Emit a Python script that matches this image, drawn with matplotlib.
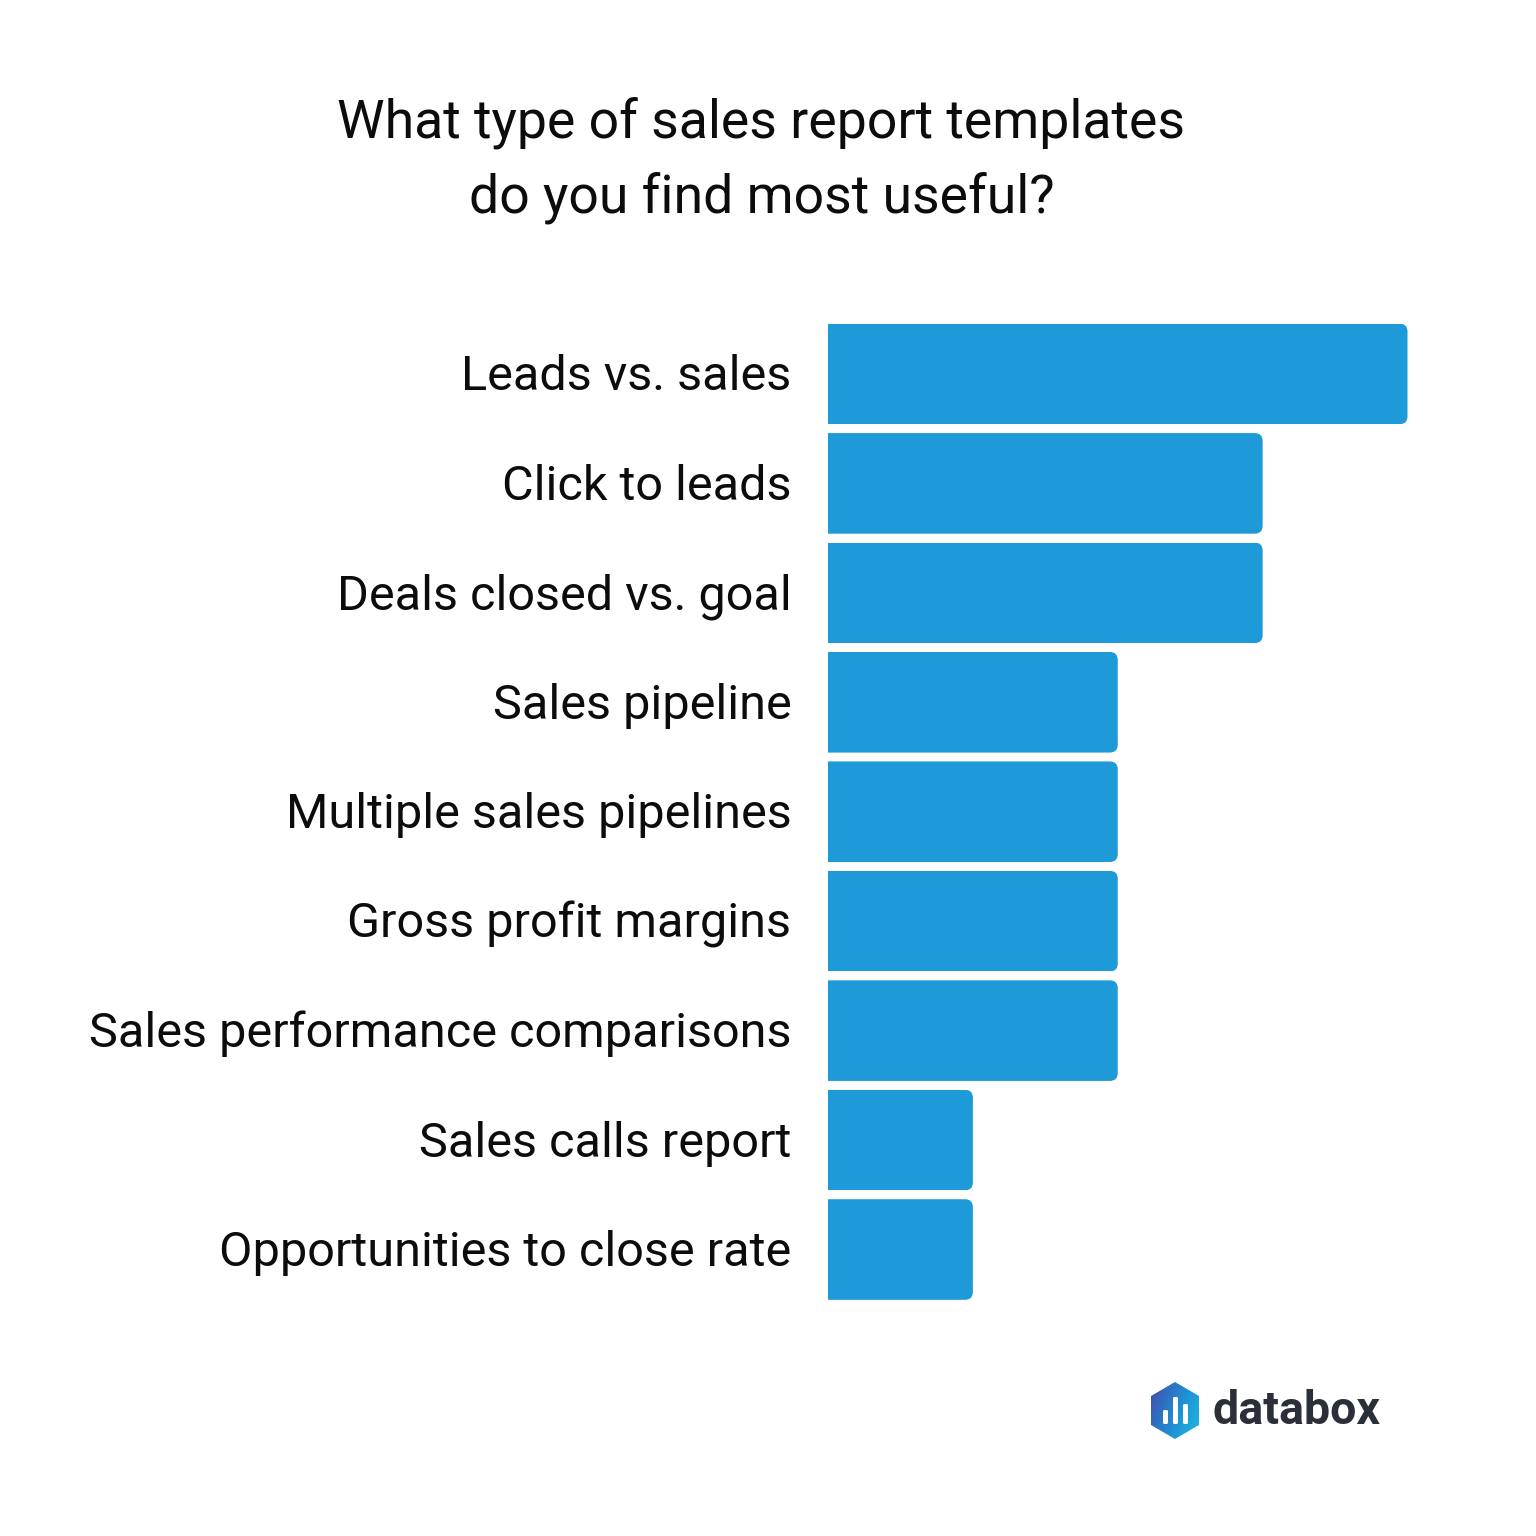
import numpy as np
import matplotlib
matplotlib.use("Agg")
import matplotlib.pyplot as plt
from matplotlib.patches import FancyBboxPatch, Polygon
from matplotlib.colors import LinearSegmentedColormap
from matplotlib.transforms import ScaledTranslation

categories = ["Leads vs. sales", "Click to leads", "Deals closed vs. goal", "Sales pipeline",
              "Multiple sales pipelines", "Gross profit margins",
              "Sales performance comparisons", "Sales calls report", "Opportunities to close rate"]
values = [4, 3, 3, 2, 2, 2, 2, 1, 1]
title_lines = ["What type of sales report templates", "do you find most useful?"]
BAR = "#1E9AD8"
INK = "#0c0c0c"
S = 1536.0

fig = plt.figure(figsize=(15.36, 15.36), dpi=100, facecolor="white")
plt.rcParams["font.family"] = ["Roboto", "DejaVu Sans"]

# Overlay in pixel coordinates for title and logo
bg = fig.add_axes([0, 0, 1, 1])
bg.set_xlim(0, S); bg.set_ylim(S, 0); bg.axis("off")

bg.text(761, 117, title_lines[0], ha="center", va="center_baseline", fontsize=38.65, color=INK)
bg.text(761.5, 191.5, title_lines[1], ha="center", va="center_baseline", fontsize=38.65, color=INK)

# Chart axes: x 828..1407 is 0..4, rows pitch 109.5 px
top, pitch = 319.2, 109.45
n = len(categories)
ax = fig.add_axes([828/S, 1 - (top + pitch*n)/S, 579.5/S, pitch*n/S])
ax.set_xlim(0, max(values)); ax.set_ylim(n - 0.5, -0.5)
ax.patch.set_alpha(0)
for s in ax.spines.values():
    s.set_visible(False)
ypos = np.arange(n)
bars = ax.barh(ypos, values, height=100.6/pitch, color=BAR, linewidth=0)
ax.set_xticks([])
ax.set_yticks(ypos, categories, fontsize=35, color=INK)
ax.tick_params(axis="y", length=0, pad=26)
nudge = ScaledTranslation(-0.5/100, 1.5/100, fig.dpi_scale_trans)
for lab in ax.get_yticklabels():
    lab.set_verticalalignment("center_baseline")
    lab.set_transform(lab.get_transform() + nudge)

# Round the right corners of every bar
xunit = 144.9; radius = 8.0
for b, y, v in zip(bars, ypos, values):
    h = b.get_height()
    clip = FancyBboxPatch((-1, y - h/2), v + 1, h, boxstyle=f"round,pad=0,rounding_size={radius/xunit}",
                          mutation_aspect=xunit/pitch, transform=ax.transData, linewidth=0)
    b.set_clip_path(clip)

# Logo
hexagon = [(1175, 1382), (1199, 1396), (1199, 1425), (1175, 1439), (1151, 1425), (1151, 1396)]
cmap = LinearSegmentedColormap.from_list("logo", ["#4A48A6", "#2F6FC0", "#1E96D6", "#1EB4DE"])
gx, gy = np.meshgrid(np.linspace(0, 1, 64), np.linspace(0, 1, 64))
grad = np.clip(0.75*gx + 0.35*gy, 0, 1)
im = bg.imshow(grad, extent=(1149, 1201, 1441, 1380), cmap=cmap, aspect="auto", zorder=2)
bg.set_xlim(0, S); bg.set_ylim(S, 0)
hp = Polygon(hexagon, closed=True, transform=bg.transData, facecolor="none", edgecolor="none")
bg.add_patch(hp)
im.set_clip_path(hp)
for x0, y0, y1 in [(1163, 1410, 1424), (1173, 1397, 1424), (1183, 1404, 1424)]:
    bg.add_patch(FancyBboxPatch((x0, y0), 5, y1 - y0, boxstyle="round,pad=0,rounding_size=1.5",
                                facecolor="white", linewidth=0, zorder=3))
bg.text(1212, 1424.5, "databox", ha="left", va="baseline", fontsize=33.5, fontweight="bold",
        family=["Roboto", "DejaVu Sans"], color="#2B3038")

fig.savefig("out.png", dpi=100, facecolor="white")
